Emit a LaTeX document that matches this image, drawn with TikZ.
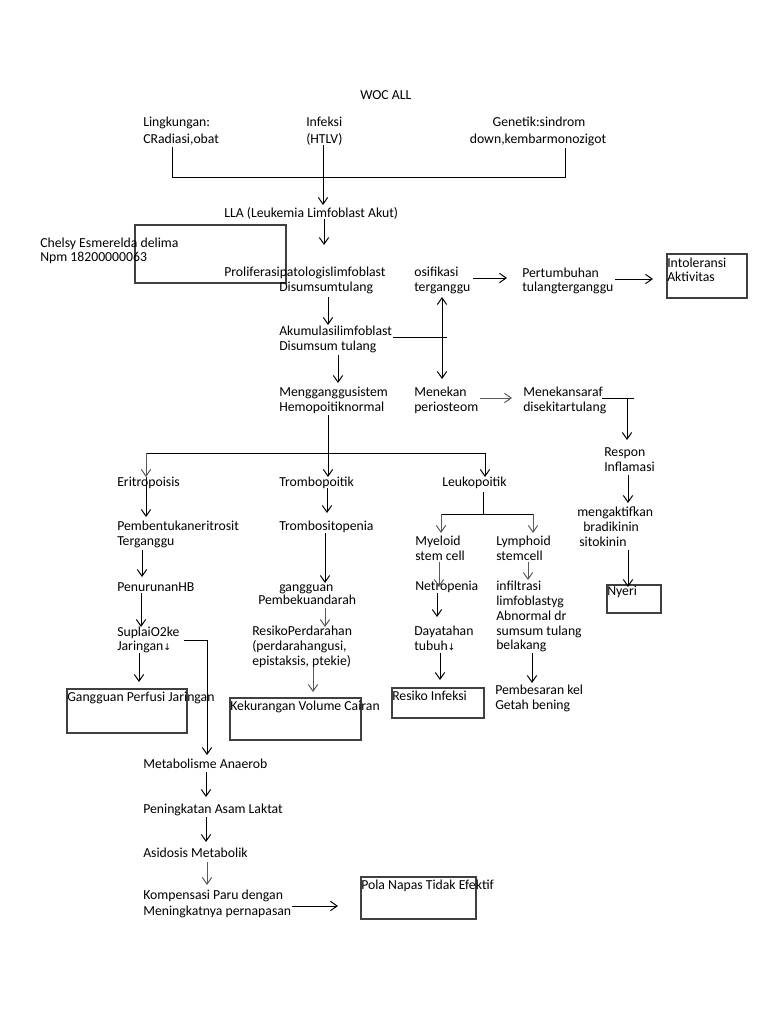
\documentclass[tikz,border=0pt]{standalone}
\usepackage{fontspec}
\setmainfont{Carlito}
\newfontfamily\dvfont{DejaVu Sans}
\usetikzlibrary{arrows.meta}
\newcommand{\dn}{{\dvfont\fontsize{7}{8}\selectfont ↓}}
\begin{document}
\begin{tikzpicture}[x=0.75pt,y=-0.75pt,
  txt/.style={anchor=base west,inner sep=0pt,font=\fontsize{10.3}{12}\selectfont},
  ctxt/.style={anchor=base,inner sep=0pt,font=\fontsize{10.3}{12}\selectfont},
  ln/.style={line width=0.75pt,black},
  arr/.style={line width=0.75pt,black,-{Straight Barb[length=5pt,width=7pt]}},
  garr/.style={arr,gray!70!black},
  dblarr/.style={line width=0.75pt,black,{Straight Barb[length=5pt,width=7pt]}-{Straight Barb[length=5pt,width=7pt]}},
  box/.style={line width=0.8pt,draw=black!75}]
\fill[white] (0,0) rectangle (768,1024);
\useasboundingbox (0,0) rectangle (768,1024);

% boxes
\draw[box] (135,225) rectangle (286,283);
\draw[box] (667,254) rectangle (747,298);
\draw[box] (607,585) rectangle (661,613);
\draw[box] (67,689) rectangle (187,733);
\draw[box] (230,698) rectangle (361,740);
\draw[box] (392,688) rectangle (484,718);
\draw[box] (361,877) rectangle (476,919);

% texts
\node[txt] (woc) at (360,99) {WOC ALL};
\node[txt] (ling1) at (143,127) {Lingkungan:};
\node[txt] (ling2) at (143,143) {CRadiasi,obat};
\node[txt] (inf1) at (306,127) {Infeksi};
\node[txt] (inf2) at (306,143) {(HTLV)};
\node[ctxt] (gen1) at (539,127) {Genetik:sindrom};
\node[ctxt] (gen2) at (538,143) {down,kembarmonozigot};
\node[txt] (lla) at (224,217) {LLA (Leukemia Limfoblast Akut)};
\node[txt] (chel1) at (40,247) {Chelsy Esmerelda delima};
\node[txt] (chel2) at (40,261) {Npm 18200000063};
\node[txt] (prol1) at (224,276) {Proliferasipatologislimfoblast};
\node[txt] (prol2) at (279,291) {Disumsumtulang};
\node[txt] (osi1) at (414,276) {osifikasi};
\node[txt] (osi2) at (414,291) {terganggu};
\node[txt] (per1) at (522,277) {Pertumbuhan};
\node[txt] (per2) at (522,291) {tulangterganggu};
\node[txt] (int1) at (667,267) {Intoleransi};
\node[txt] (int2) at (667,281) {Aktivitas};
\node[txt] (aku1) at (279,335) {Akumulasilimfoblast};
\node[txt] (aku2) at (279,350) {Disumsum tulang};
\node[txt] (men1) at (279,396) {Mengganggusistem};
\node[txt] (men2) at (279,411) {Hemopoitiknormal};
\node[txt] (mp1) at (414,396) {Menekan};
\node[txt] (mp2) at (414,411) {periosteom};
\node[txt] (ms1) at (523,396) {Menekansaraf};
\node[txt] (ms2) at (523,411) {disekitartulang};
\node[txt] (res1) at (604,456) {Respon};
\node[txt] (res2) at (604,471) {Inflamasi};
\node[txt] (eri) at (117,486) {Eritropoisis};
\node[txt] (tro) at (279,486) {Trombopoitik};
\node[txt] (leu) at (442,486) {Leukopoitik};
\node[txt] (mak1) at (577,516) {mengaktifkan};
\node[txt] (mak2) at (583,531) {bradikinin};
\node[txt] (mak3) at (579,546) {sitokinin};
\node[txt] (pem1) at (117,530) {Pembentukaneritrosit};
\node[txt] (pem2) at (117,545) {Terganggu};
\node[txt] (trs) at (279,530) {Trombositopenia};
\node[txt] (mye1) at (415,545) {Myeloid};
\node[txt] (mye2) at (415,560) {stem cell};
\node[txt] (lym1) at (496,545) {Lymphoid};
\node[txt] (lym2) at (496,560) {stemcell};
\node[txt] (pen) at (117,591) {PenurunanHB};
\node[txt] (gan1) at (279,591) {gangguan};
\node[txt] (gan2) at (258,604) {Pembekuandarah};
\node[txt] (net) at (415,590) {Netropenia};
\node[txt] (inl1) at (496,590) {infiltrasi};
\node[txt] (inl2) at (496,605) {limfoblastyg};
\node[txt] (inl3) at (496,620) {Abnormal dr};
\node[txt] (inl4) at (496,635) {sumsum tulang};
\node[txt] (inl5) at (496,649) {belakang};
\node[txt] (nye) at (607,595) {Nyeri};
\node[txt] (sup1) at (117,636) {SuplaiO2ke};
\node[txt] (sup2) at (117,650) {Jaringan\dn};
\node[txt] (rp1) at (252,635) {ResikoPerdarahan};
\node[txt] (rp2) at (252,650) {(perdarahangusi,};
\node[txt] (rp3) at (252,665) {epistaksis, ptekie)};
\node[txt] (day1) at (414,635) {Dayatahan};
\node[txt] (day2) at (414,650) {tubuh\dn};
\node[txt] (gpj) at (67,701) {Gangguan Perfusi Jaringan};
\node[txt] (kvc) at (230,710) {Kekurangan Volume Cairan};
\node[txt] (rin) at (392,700) {Resiko Infeksi};
\node[txt] (pkg1) at (495,694) {Pembesaran kel};
\node[txt] (pkg2) at (495,709) {Getah bening};
\node[txt] (mta) at (143,768) {Metabolisme Anaerob};
\node[txt] (pal) at (143,813) {Peningkatan Asam Laktat};
\node[txt] (asm) at (143,857) {Asidosis Metabolik};
\node[txt] (kpd1) at (143,899) {Kompensasi Paru dengan};
\node[txt] (kpd2) at (143,915) {Meningkatnya pernapasan};
\node[txt] (pnt) at (361,889) {Pola Napas Tidak Efektif};

% connectors
\draw[ln] (172,147) -- (172,177) -- (565,177) -- (565,148);
\draw[arr] (323,145) -- (323,205);
\draw[arr] (324,219) -- (324,245);
\draw[arr] (328,297) -- (328,325);
\draw[ln] (393,337) -- (447,337);
\draw[dblarr] (442,297) -- (442,379);
\draw[arr] (338,355) -- (338,383);
\draw[arr] (473,278) -- (507,278);
\draw[arr] (615,279) -- (653,279);
\draw[garr] (480,398) -- (512,398);
\draw[ln] (602,398) -- (634,398);
\draw[arr] (627,398) -- (627,440);
\draw[arr] (628,475) -- (628,503);
\draw[arr] (628,550) -- (628,587);
\draw[arr] (328,415) -- (328,477);
\draw[ln] (146,453) -- (485,453);
\draw[garr] (146,453) -- (146,477);
\draw[arr] (485,453) -- (485,477);
\draw[arr] (146,477) -- (146,517);
\draw[arr] (327,488) -- (327,513);
\draw[arr] (142,550) -- (142,577);
\draw[arr] (141,593) -- (141,627);
\draw[arr] (139,653) -- (139,682);
\draw[ln] (184,640) -- (207,640);
\draw[arr] (207,640) -- (207,755);
\draw[arr] (325,533) -- (325,583);
\draw[garr] (325,608) -- (325,627);
\draw[garr] (313,667) -- (313,692);
\draw[ln] (483,492) -- (483,514);
\draw[ln] (441,514) -- (533,514);
\draw[garr] (441,514) -- (441,533);
\draw[garr] (533,514) -- (533,533);
\draw[garr] (439,562) -- (439,587);
\draw[garr] (528,562) -- (528,580);
\draw[arr] (437,593) -- (437,617);
\draw[arr] (440,653) -- (440,680);
\draw[arr] (532,653) -- (532,683);
\draw[arr] (206,772) -- (206,797);
\draw[arr] (206,817) -- (206,842);
\draw[garr] (207,862) -- (207,885);
\draw[arr] (292,906) -- (338,906);
\end{tikzpicture}
\end{document}
